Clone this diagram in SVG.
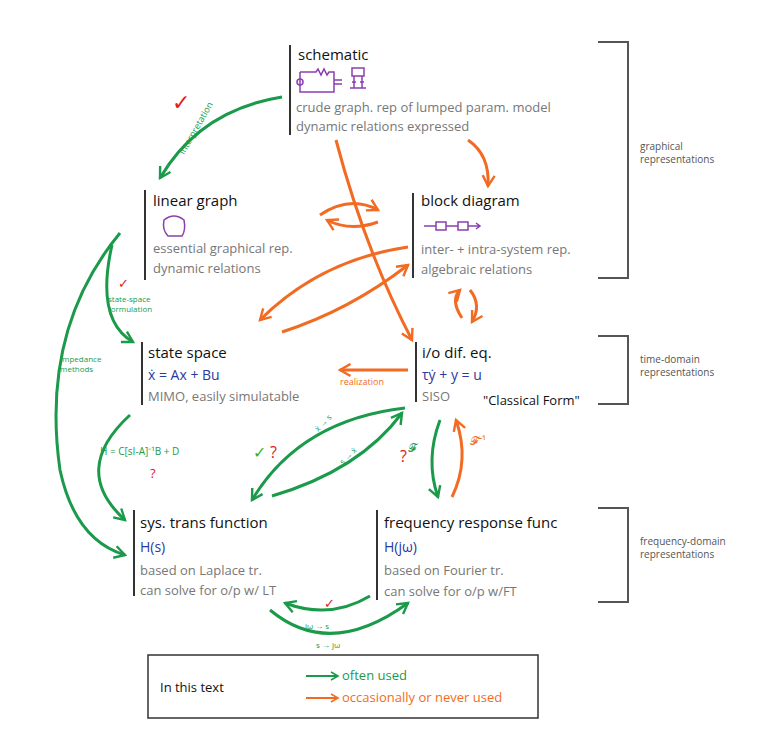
<svg xmlns="http://www.w3.org/2000/svg" width="768" height="738" viewBox="0 0 768 738">
<style>
text{font-family:"Open Sans","Liberation Sans",sans-serif}
.t{font-size:15px;fill:#111}
.d{font-size:13px;fill:#777}
.e{font-size:14px;fill:#2a3aa0}
.s{font-size:10px;fill:#555}
.gl{font-size:8px;fill:#1a9a4a}
.ol{font-size:9px;fill:#f26b22}
.bar{stroke:#333;stroke-width:2}
.br{fill:none;stroke:#555;stroke-width:2}
.g{fill:none;stroke:#1a9a4a;stroke-width:3}
.o{fill:none;stroke:#f26b22;stroke-width:3}
.p{fill:none;stroke:#8a3fb0;stroke-width:1.5}
.q{font-size:13px;fill:#e02020}
</style>
<defs>
<marker id="ag" viewBox="0 0 10 10" refX="8" refY="5" markerWidth="5" markerHeight="5" orient="auto"><path d="M1,1 L8,5 L1,9" fill="none" stroke="#1a9a4a" stroke-width="1.6"/></marker>
<marker id="ao" viewBox="0 0 10 10" refX="8" refY="5" markerWidth="5" markerHeight="5" orient="auto"><path d="M1,1 L8,5 L1,9" fill="none" stroke="#f26b22" stroke-width="1.6"/></marker>
</defs>
<rect width="768" height="738" fill="#fff"/>
<g id="schematic">
<line class="bar" x1="290" y1="45" x2="290" y2="135"/>
<text class="t" x="298" y="60">schematic</text>
<path class="p" d="M300,72 H316 l2,-3 3,6 3,-6 3,6 2,-3 H334 V92 H300 V72 M334,80 H342 M334,84 H342"/>
<circle class="p" cx="300" cy="82" r="3"/>
<path class="p" d="M352,68 H364 V76 H352 Z M354,76 V88 M362,76 V88 M350,88 H366 M352,82 h4 M360,82 h4"/>
<text class="d" x="296" y="112">crude graph. rep of lumped param. model</text>
<text class="d" x="296" y="131">dynamic relations expressed</text>
</g>
<g id="linear-graph">
<line class="bar" x1="145" y1="190" x2="145" y2="280"/>
<text class="t" x="153" y="206">linear graph</text>
<path class="p" d="M164,220 q10,-8 20,0 q2,10 -2,16 h-14 q-6,-6 -4,-16z"/>
<text class="d" x="153" y="253">essential graphical rep.</text>
<text class="d" x="153" y="273">dynamic relations</text>
</g>
<g id="block-diagram">
<line class="bar" x1="413" y1="193" x2="413" y2="278"/>
<text class="t" x="421" y="206">block diagram</text>
<path class="p" d="M424,226 H436 M436,222 h10 v8 h-10z M446,226 H458 M458,222 h10 v8 h-10z M468,226 H480 M476,223 l4,3 -4,3"/>
<text class="d" x="421" y="254">inter- + intra-system rep.</text>
<text class="d" x="421" y="274">algebraic relations</text>
</g>
<g id="state-space">
<line class="bar" x1="142" y1="342" x2="142" y2="405"/>
<text class="t" x="148" y="358">state space</text>
<text class="e" x="148" y="380">ẋ = Ax + Bu</text>
<text class="d" x="148" y="401">MIMO, easily simulatable</text>
</g>
<g id="io-dif-eq">
<line class="bar" x1="416" y1="342" x2="416" y2="402"/>
<text class="t" x="422" y="358">i/o dif. eq.</text>
<text class="e" x="422" y="380">τẏ + y = u</text>
<text class="d" x="422" y="401">SISO</text>
<text x="483" y="405" style="font-size:13px;fill:#111">"Classical Form"</text>
</g>
<g id="sys-trans-function">
<line class="bar" x1="134" y1="510" x2="134" y2="596"/>
<text class="t" x="140" y="528">sys. trans function</text>
<text class="e" x="140" y="552">H(s)</text>
<text class="d" x="140" y="575">based on Laplace tr.</text>
<text class="d" x="140" y="595">can solve for o/p w/ LT</text>
</g>
<g id="frequency-response">
<line class="bar" x1="377" y1="510" x2="377" y2="600"/>
<text class="t" x="384" y="528">frequency response func</text>
<text class="e" x="384" y="552">H(jω)</text>
<text class="d" x="384" y="575">based on Fourier tr.</text>
<text class="d" x="384" y="596">can solve for o/p w/FT</text>
</g>
<g id="brackets">
<path class="br" d="M598,42 H628 V278 H598"/>
<text class="s" x="640" y="150">graphical</text>
<text class="s" x="640" y="163">representations</text>
<path class="br" d="M598,336 H628 V404 H598"/>
<text class="s" x="640" y="363">time-domain</text>
<text class="s" x="640" y="376">representations</text>
<path class="br" d="M598,508 H628 V602 H598"/>
<text class="s" x="640" y="545">frequency-domain</text>
<text class="s" x="640" y="558">representations</text>
</g>
<g id="connectors">
<path class="g" d="M282,97 Q200,110 160,178" marker-end="url(#ag)"/>
<text class="gl" transform="translate(184,155) rotate(-60)" style="font-size:9px">interpretation</text>
<path class="o" d="M468,140 Q490,155 488,186" marker-end="url(#ao)"/>
<path class="o" d="M336,140 Q365,250 412,340" marker-end="url(#ao)"/>
<path class="o" d="M320,215 Q350,195 378,210" marker-end="url(#ao)"/>
<path class="o" d="M378,222 Q350,232 327,220" marker-end="url(#ao)"/>
<path class="o" d="M408,247 Q320,260 260,320" marker-end="url(#ao)"/>
<path class="o" d="M282,332 Q350,310 408,265" marker-end="url(#ao)"/>
<path class="o" d="M462,318 Q450,300 460,290" marker-end="url(#ao)"/>
<path class="o" d="M470,290 Q482,305 472,322" marker-end="url(#ao)"/>
<path class="o" d="M408,370 H340" marker-end="url(#ao)"/>
<text class="ol" x="340" y="385">realization</text>
<path class="g" d="M120,233 Q40,330 60,470 Q75,540 125,555" marker-end="url(#ag)"/>
<text class="gl" x="60" y="362">impedance</text>
<text class="gl" x="60" y="372">methods</text>
<path class="g" d="M112,245 Q95,320 133,342" marker-end="url(#ag)"/>
<text class="gl" x="108" y="302">state-space</text>
<text class="gl" x="108" y="312">formulation</text>
<path class="g" d="M130,415 Q70,470 125,520" marker-end="url(#ag)"/>
<text class="gl" x="100" y="455" style="font-size:10px">H = C[sI-A]⁻¹B + D</text>
<path class="g" d="M405,408 Q300,420 252,500" marker-end="url(#ag)"/>
<path class="g" d="M272,496 Q360,470 402,413" marker-end="url(#ag)"/>
<text class="gl" transform="translate(318,432) rotate(-45)">ẋ → s</text>
<text class="gl" transform="translate(343,465) rotate(-45)">s → ẋ</text>
<path class="g" d="M440,420 Q425,460 438,497" marker-end="url(#ag)"/>
<text class="gl" x="408" y="452" style="font-size:11px">𝓕</text>
<path class="o" d="M452,497 Q470,460 456,420" marker-end="url(#ao)"/>
<text class="ol" x="470" y="445" style="font-size:11px">𝓕⁻¹</text>
<path class="g" d="M370,596 Q330,620 285,603" marker-end="url(#ag)"/>
<text class="gl" x="305" y="629">jω → s</text>
<path class="g" d="M270,610 Q330,660 408,603" marker-end="url(#ag)"/>
<text class="gl" x="316" y="648">s → jω</text>
</g>
<g id="marks">
<text x="172" y="110" style="font-size:22px;fill:#e02020">✓</text>
<text x="118" y="288" class="q">✓</text>
<text x="253" y="458" style="font-size:16px;fill:#2db52d">✓</text>
<text x="270" y="458" class="q" style="font-size:16px">?</text>
<text x="150" y="478" class="q">?</text>
<text x="400" y="462" class="q" style="font-size:16px">?</text>
<text x="324" y="608" class="q">✓</text>
</g>
<g id="legend">
<rect x="148" y="655" width="390" height="63" fill="none" stroke="#333" stroke-width="1.5"/>
<text x="160" y="692" style="font-size:13px;fill:#111">In this text</text>
<path d="M306,676 H338" stroke="#1a9a4a" stroke-width="2" marker-end="url(#ag)"/>
<text x="342" y="680" style="font-size:13px;fill:#1a9a4a">often used</text>
<path d="M306,698 H338" stroke="#f26b22" stroke-width="2" marker-end="url(#ao)"/>
<text x="342" y="702" style="font-size:13px;fill:#f26b22">occasionally or never used</text>
</g>
</svg>
